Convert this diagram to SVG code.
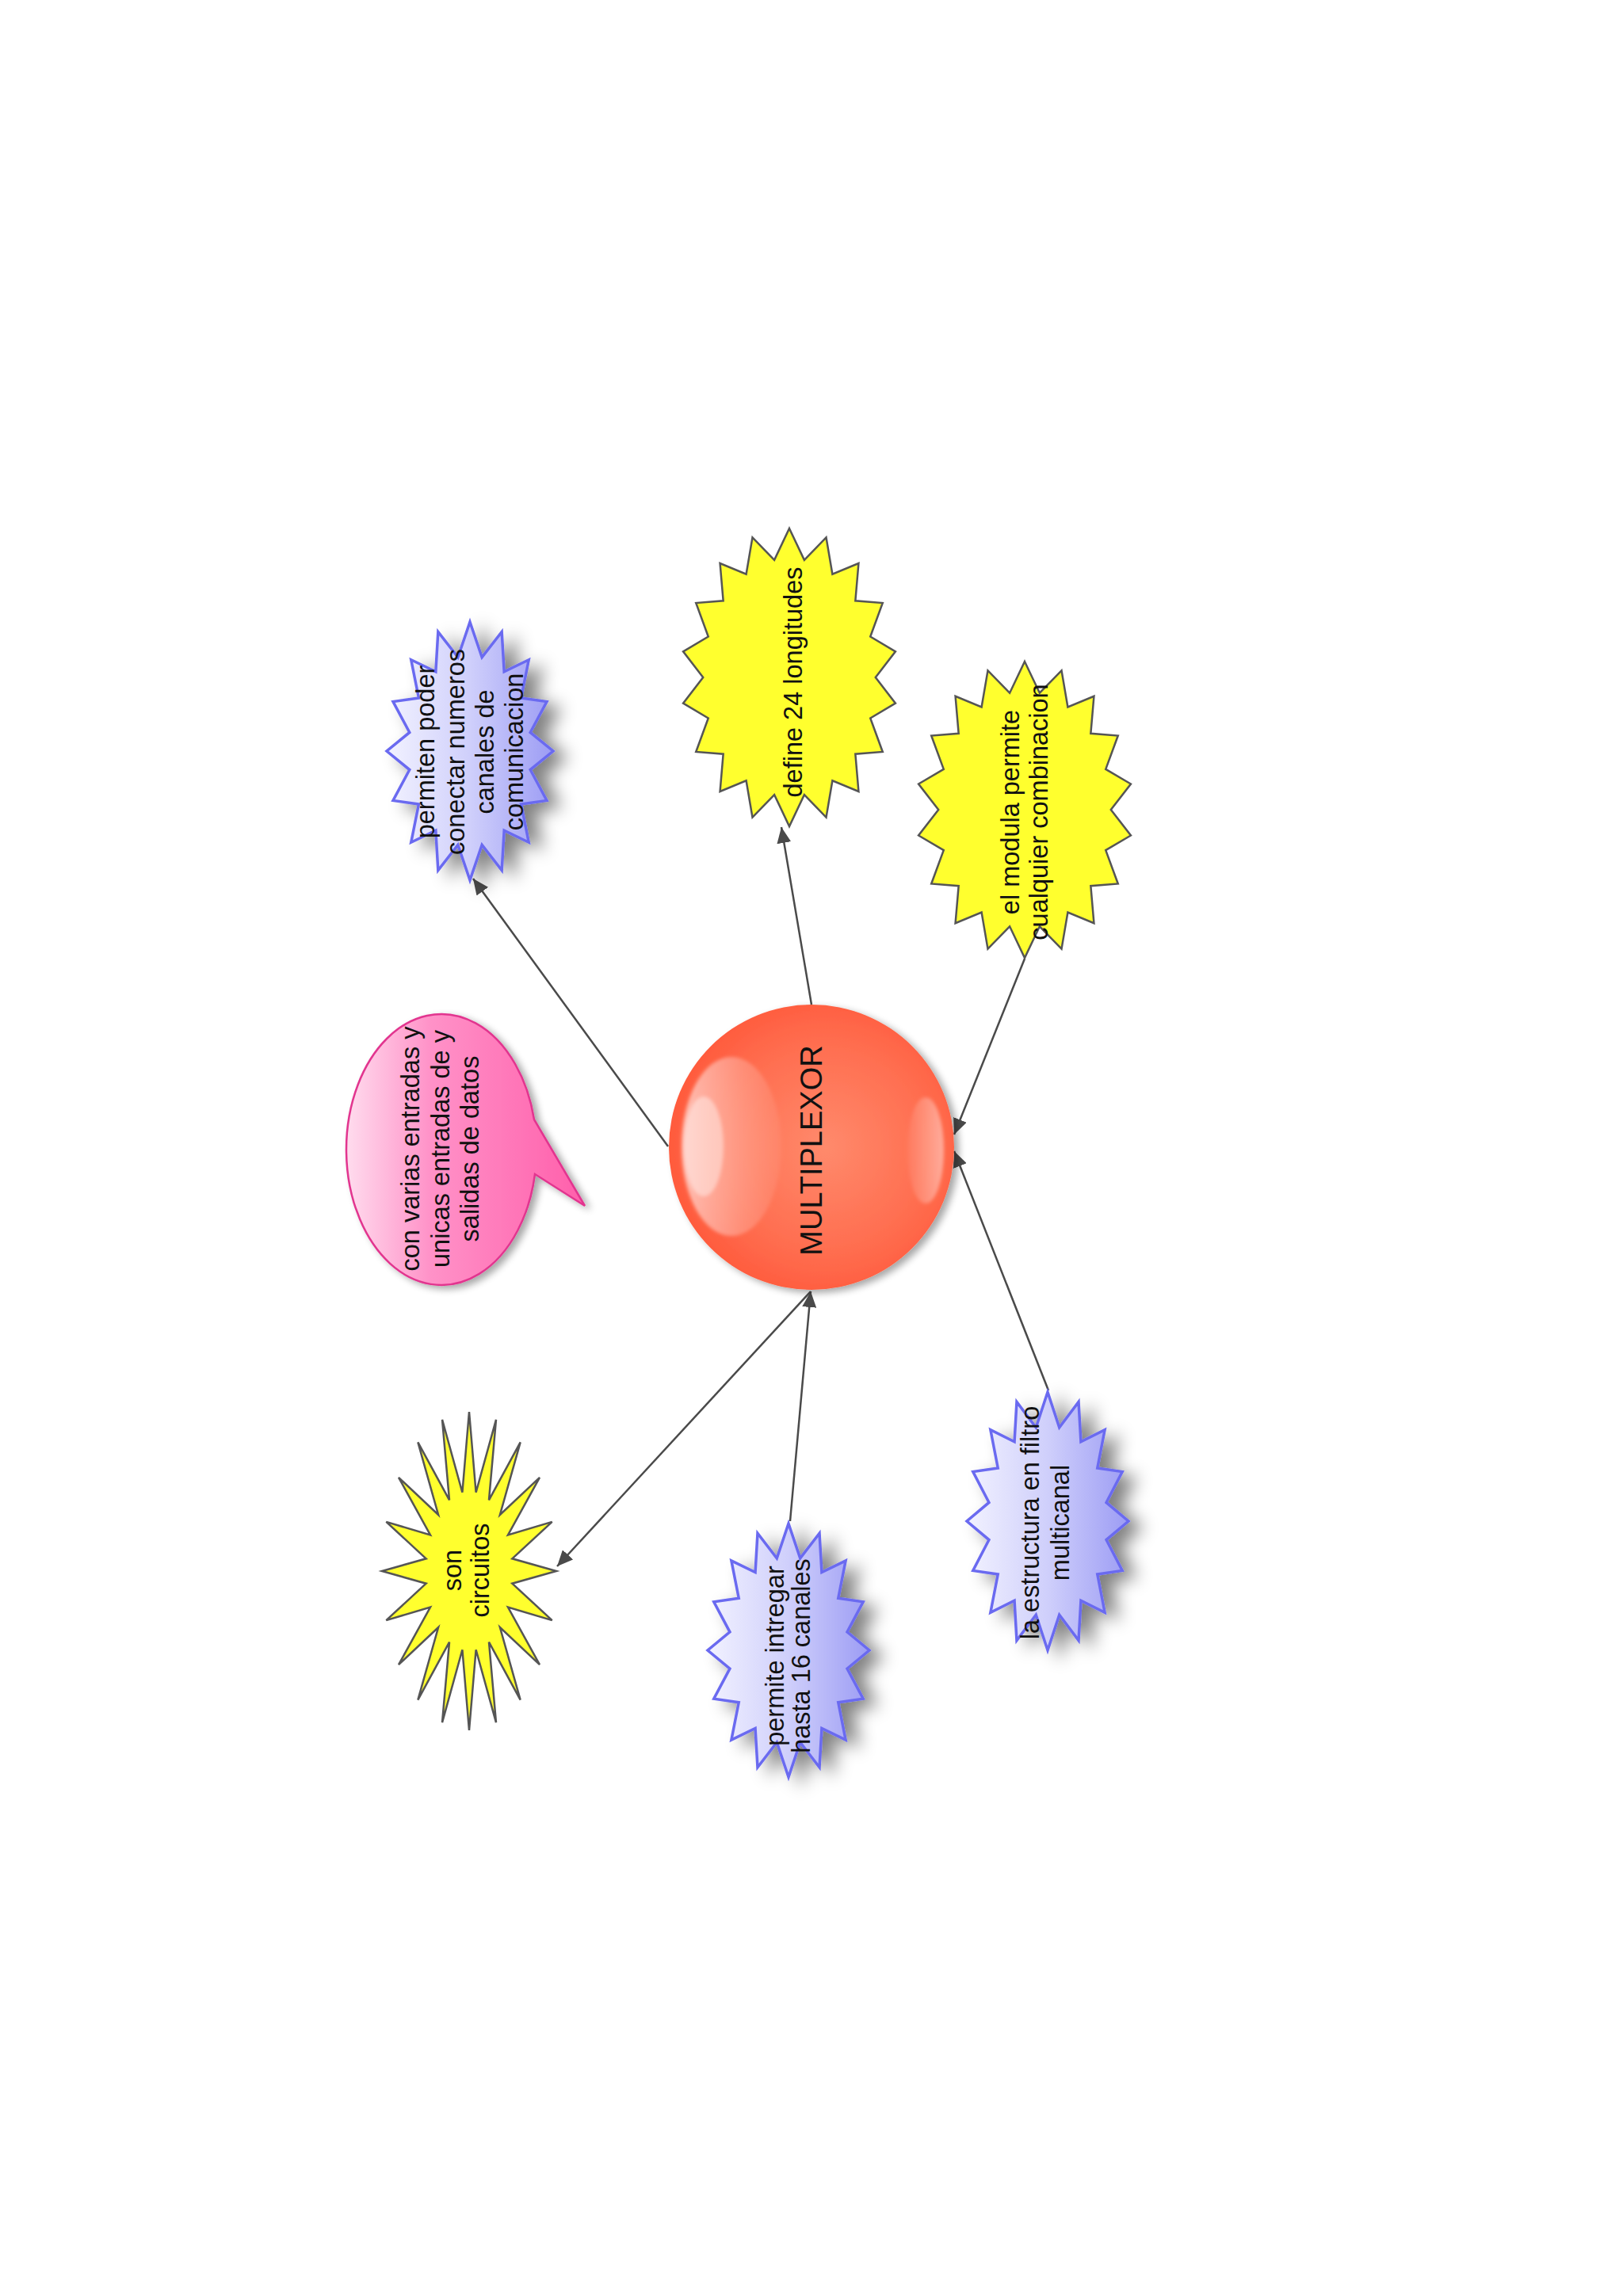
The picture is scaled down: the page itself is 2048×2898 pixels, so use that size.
<svg xmlns="http://www.w3.org/2000/svg" xmlns:xlink="http://www.w3.org/1999/xlink" width="2048" height="2898" viewBox="0 0 2048 2898">
<style>
.lbl{font-family:"Liberation Sans",Arial,sans-serif;font-size:32.5px;fill:#111;text-anchor:middle}
.big{font-size:38px}
.conn line{stroke:#4a4a4a;stroke-width:2.5;fill:none;marker-end:url(#arr)}
.blue{fill:url(#gBlue);stroke:#6a6af0;stroke-width:3.5}
.yel{fill:#ffff2e;stroke:#555;stroke-width:2.5}
.shape{vector-effect:non-scaling-stroke;stroke-linejoin:miter}
</style>
<defs>
<marker id="arr" markerUnits="userSpaceOnUse" markerWidth="20" markerHeight="18" refX="20" refY="9" orient="auto">
<path d="M0,0 L20,9 L0,18 Z" fill="#4a4a4a"/>
</marker>
<linearGradient id="gBlue" x1="0" y1="0" x2="1" y2="0">
<stop offset="0" stop-color="#f2f2ff"/>
<stop offset="0.5" stop-color="#cfcffb"/>
<stop offset="1" stop-color="#9c9cf4"/>
</linearGradient>
<linearGradient id="gPink" x1="0" y1="0" x2="1" y2="0">
<stop offset="0" stop-color="#ffdcee"/>
<stop offset="0.35" stop-color="#ff92c8"/>
<stop offset="1" stop-color="#ff5fab"/>
</linearGradient>
<radialGradient id="gBall" cx="0.55" cy="0.5" r="0.55">
<stop offset="0" stop-color="#ff8a6c"/>
<stop offset="0.7" stop-color="#ff6c4e"/>
<stop offset="1" stop-color="#ff5a3c"/>
</radialGradient>
<linearGradient id="gHiL" x1="0" y1="0" x2="1" y2="0">
<stop offset="0" stop-color="#fff" stop-opacity="0.6"/>
<stop offset="0.6" stop-color="#fff" stop-opacity="0.25"/>
<stop offset="1" stop-color="#fff" stop-opacity="0.05"/>
</linearGradient>
<linearGradient id="gHiR" x1="0" y1="0" x2="1" y2="0">
<stop offset="0" stop-color="#fff" stop-opacity="0.05"/>
<stop offset="1" stop-color="#fff" stop-opacity="0.45"/>
</linearGradient>
<filter id="blurHi" x="-20%" y="-20%" width="140%" height="140%">
<feGaussianBlur stdDeviation="2"/>
</filter>
<filter id="shadow" x="-40%" y="-30%" width="180%" height="160%">
<feGaussianBlur in="SourceAlpha" stdDeviation="11"/>
<feOffset dx="16" dy="8" result="b"/>
<feComponentTransfer><feFuncA type="linear" slope="0.5"/></feComponentTransfer>
<feMerge><feMergeNode/><feMergeNode in="SourceGraphic"/></feMerge>
</filter>
<filter id="soft" x="-20%" y="-20%" width="140%" height="140%">
<feGaussianBlur in="SourceAlpha" stdDeviation="5"/>
<feOffset dx="6" dy="4"/>
<feComponentTransfer><feFuncA type="linear" slope="0.35"/></feComponentTransfer>
<feMerge><feMergeNode/><feMergeNode in="SourceGraphic"/></feMerge>
</filter>
<polygon id="starBlue" class="shape" points="0,-1 0.1444,-0.7258 0.3827,-0.9239 0.4111,-0.6153 0.7071,-0.7071 0.6153,-0.4111 0.9239,-0.3827 0.7258,-0.1444 1,0 0.7258,0.1444 0.9239,0.3827 0.6153,0.4111 0.7071,0.7071 0.4111,0.6153 0.3827,0.9239 0.1444,0.7258 0,1 -0.1444,0.7258 -0.3827,0.9239 -0.4111,0.6153 -0.7071,0.7071 -0.6153,0.4111 -0.9239,0.3827 -0.7258,0.1444 -1,0 -0.7258,-0.1444 -0.9239,-0.3827 -0.6153,-0.4111 -0.7071,-0.7071 -0.4111,-0.6153 -0.3827,-0.9239 -0.1444,-0.7258"/>
<polygon id="starYel" class="shape" points="0,-1 0.1389,-0.7878 0.3420,-0.9397 0.4,-0.6928 0.6428,-0.7660 0.6128,-0.5142 0.8660,-0.5 0.7518,-0.2736 0.9848,-0.1736 0.8,0 0.9848,0.1736 0.7518,0.2736 0.8660,0.5 0.6128,0.5142 0.6428,0.7660 0.4,0.6928 0.3420,0.9397 0.1389,0.7878 0,1 -0.1389,0.7878 -0.3420,0.9397 -0.4,0.6928 -0.6428,0.7660 -0.6128,0.5142 -0.8660,0.5 -0.7518,0.2736 -0.9848,0.1736 -0.8,0 -0.9848,-0.1736 -0.7518,-0.2736 -0.8660,-0.5 -0.6128,-0.5142 -0.6428,-0.7660 -0.4,-0.6928 -0.3420,-0.9397 -0.1389,-0.7878"/>
<polygon id="starSpiky" class="shape" points="0,-1 0.0782,-0.4939 0.3090,-0.9511 0.2270,-0.4455 0.5878,-0.8090 0.3536,-0.3536 0.8090,-0.5878 0.4455,-0.2270 0.9511,-0.3090 0.4939,-0.0782 1,0 0.4939,0.0782 0.9511,0.3090 0.4455,0.2270 0.8090,0.5878 0.3536,0.3536 0.5878,0.8090 0.2270,0.4455 0.3090,0.9511 0.0782,0.4939 0,1 -0.0782,0.4939 -0.3090,0.9511 -0.2270,0.4455 -0.5878,0.8090 -0.3536,0.3536 -0.8090,0.5878 -0.4455,0.2270 -0.9511,0.3090 -0.4939,0.0782 -1,0 -0.4939,-0.0782 -0.9511,-0.3090 -0.4455,-0.2270 -0.8090,-0.5878 -0.3536,-0.3536 -0.5878,-0.8090 -0.2270,-0.4455 -0.3090,-0.9511 -0.0782,-0.4939"/>
</defs>
<rect width="2048" height="2898" fill="#ffffff"/>

<g id="connectors" class="conn">
<line x1="843" y1="1447" x2="597" y2="1109"/>
<line x1="1024" y1="1268" x2="986" y2="1044"/>
<line x1="1293" y1="1210" x2="1204" y2="1432"/>
<line x1="1323" y1="1755" x2="1204" y2="1453"/>
<line x1="997" y1="1920" x2="1023" y2="1630"/>
<line x1="1023" y1="1630" x2="703" y2="1977"/>
</g>

<g id="node-multiplexor">
<circle cx="1024" cy="1448" r="180" fill="url(#gBall)" filter="url(#soft)"/>
<g filter="url(#blurHi)">
<ellipse cx="923" cy="1447" rx="63" ry="113" fill="url(#gHiL)"/>
<ellipse cx="888" cy="1447" rx="25" ry="63" fill="#fff" fill-opacity="0.4"/>
<ellipse cx="1168" cy="1452" rx="23" ry="67" fill="url(#gHiR)"/>
</g>
<text class="lbl big" transform="translate(1023,1452) rotate(-90)" y="13.5">MULTIPLEXOR</text>
</g>

<g id="node-permiten">
<g filter="url(#shadow)"><use href="#starBlue" class="blue" transform="translate(593,948) scale(105,163)"/></g>
<text class="lbl" transform="translate(594,949) rotate(-90)"><tspan x="0" y="-46">permiten poder</tspan><tspan x="0" y="-8">conectar numeros</tspan><tspan x="0" y="29">canales de</tspan><tspan x="0" y="66">comunicacion</tspan></text>
</g>

<g id="node-define">
<use href="#starYel" class="yel" transform="translate(996,855) scale(136,188)"/>
<text class="lbl" transform="translate(1002,861) rotate(-90)" y="10">define 24 longitudes</text>
</g>

<g id="node-modula">
<use href="#starYel" class="yel" transform="translate(1293,1022) scale(136,187)"/>
<text class="lbl" transform="translate(1295,1025) rotate(-90)"><tspan x="0" y="-9">el modula permite</tspan><tspan x="0" y="27">cualquier combinacion</tspan></text>
</g>

<g id="node-varias">
<path d="M674,1413 L738,1522 L675,1482 A120,171 0 1 1 674,1413 Z" fill="url(#gPink)" stroke="#e2358f" stroke-width="2.5" filter="url(#soft)"/>
<text class="lbl" transform="translate(558,1450) rotate(-90)"><tspan x="0" y="-29">con varias entradas y</tspan><tspan x="0" y="9">unicas entradas de y</tspan><tspan x="0" y="46">salidas de datos</tspan></text>
</g>

<g id="node-son">
<use href="#starSpiky" class="yel" transform="translate(592,1983) scale(110,201)"/>
<text class="lbl" transform="translate(590,1982) rotate(-90)"><tspan x="0" y="-8">son</tspan><tspan x="0" y="27">circuitos</tspan></text>
</g>

<g id="node-integrar">
<g filter="url(#shadow)"><use href="#starBlue" class="blue" transform="translate(995,2083) scale(102,160)"/></g>
<text class="lbl" transform="translate(996,2090) rotate(-90)"><tspan x="0" y="-7">permite intregar</tspan><tspan x="0" y="26">hasta 16 canales</tspan></text>
</g>

<g id="node-estructura">
<g filter="url(#shadow)"><use href="#starBlue" class="blue" transform="translate(1322,1920) scale(102,163)"/></g>
<text class="lbl" transform="translate(1321,1922) rotate(-90)"><tspan x="0" y="-10">la estructura en filtro</tspan><tspan x="0" y="28">multicanal</tspan></text>
</g>
</svg>
